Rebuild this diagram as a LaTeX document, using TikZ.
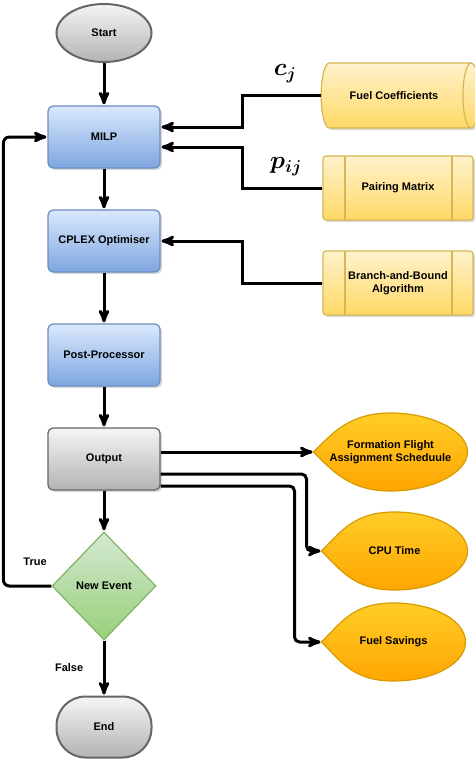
\documentclass[tikz,border=0pt]{standalone}
\usepackage{fontspec}
\setmainfont{Liberation Sans}
\usetikzlibrary{arrows,shapes.geometric,shadows,backgrounds}

\definecolor{blueline}{HTML}{6C8EBF}
\definecolor{bluetop}{HTML}{DAE8FC}
\definecolor{bluebot}{HTML}{7EA6E0}
\definecolor{greyline}{HTML}{666666}
\definecolor{greytop}{HTML}{F5F5F5}
\definecolor{greybot}{HTML}{B3B3B3}
\definecolor{greenline}{HTML}{82B366}
\definecolor{greentop}{HTML}{D5E8D4}
\definecolor{greenbot}{HTML}{97D077}
\definecolor{yellowline}{HTML}{D6B656}
\definecolor{yellowtop}{HTML}{FFF2CC}
\definecolor{yellowbot}{HTML}{FFD966}
\definecolor{orangeline}{HTML}{D79B00}
\definecolor{orangetop}{HTML}{FFCD28}
\definecolor{orangebot}{HTML}{FFA500}

% drop shaped result, drawn round a named node
\newcommand{\dropshape}[1]{%
  \path[result] (#1.west) .. controls +(20,20) and +(-40,0) .. (#1.north)
    .. controls +(41,0) and +(0,21) .. (#1.east)
    .. controls +(0,-21) and +(41,0) .. (#1.south)
    .. controls +(-40,0) and +(20,-20) .. (#1.west) -- cycle;}

\begin{document}
\begin{tikzpicture}[x=1pt,y=1pt,->,>=stealth',shorten >=1pt,line width=3pt,
                    node distance=104pt,font=\bfseries\fontsize{11}{13}\selectfont]

  \tikzstyle{shade}=[drop shadow={opacity=0.3,shadow xshift=2pt,shadow yshift=-2pt}]
  \tikzstyle{procbox}=[rectangle,rounded corners=5pt,draw=blueline,line width=1.2pt,
                       top color=bluetop,bottom color=bluebot,minimum width=112pt,
                       minimum height=62pt,shade]
  \tikzstyle{outbox}=[procbox,draw=greyline,top color=greytop,bottom color=greybot]
  \tikzstyle{startnode}=[ellipse,draw=greyline,line width=2pt,top color=greytop,
                         bottom color=greybot,minimum width=95pt,minimum height=58pt]
  \tikzstyle{endnode}=[startnode,rectangle,rounded corners=29pt,minimum height=61pt]
  \tikzstyle{decision}=[diamond,draw=greenline,line width=1.2pt,top color=greentop,
                        bottom color=greenbot,minimum width=104pt,minimum height=108pt,
                        inner sep=0pt]
  \tikzstyle{datastore}=[cylinder,aspect=1.1,draw=yellowline,line width=1.2pt,
                         top color=yellowtop,bottom color=yellowbot,
                         minimum width=65pt,minimum height=158pt,shade]
  \tikzstyle{predef}=[rectangle,rounded corners=3pt,draw=yellowline,line width=1.2pt,
                      top color=yellowtop,bottom color=yellowbot,minimum width=150pt,
                      minimum height=64pt,align=center,shade,
                      path picture={\draw[-,shorten >=0pt,draw=yellowline,line width=1.2pt]
                        ([xshift=22pt]path picture bounding box.north west) --
                        ([xshift=22pt]path picture bounding box.south west)
                        ([xshift=-21pt]path picture bounding box.north east) --
                        ([xshift=-21pt]path picture bounding box.south east);}]
  \tikzstyle{resultnode}=[rectangle,minimum height=75pt,inner sep=0pt,align=center]
  \tikzstyle{result}=[-,shorten >=0pt,draw=orangeline,line width=1.2pt,
                      top color=orangetop,bottom color=orangebot]
  \tikzstyle{mathlabel}=[font=\boldmath\fontsize{26}{30}\selectfont]

  \useasboundingbox (0,0) rectangle (474,-760);

  \node[startnode] (start) at (104,-33) {Start};
  \node[procbox]   (milp)   [below of=start]                      {MILP};
  \node[procbox]   (cplex)  [below of=milp]                       {CPLEX Optimiser};
  \node[procbox]   (post)   [node distance=114pt,below of=cplex]  {Post-Processor};
  \node[outbox]    (output) [below of=post]                       {Output};
  \node[decision]  (event)  [node distance=127pt,below of=output] {New Event};
  \node[endnode]   (stop)   [node distance=141pt,below of=event]  {End};

  \node[datastore] (fuel)    at (394,-95.5) {Fuel Coefficients};
  \node[predef]    (pairing) at (398,-188)  {Pairing Matrix};
  \node[predef]    (branch)  at (398,-283)  {Branch-and-Bound\\Algorithm};

  \node[resultnode,minimum width=151pt] (ff)      at (390.5,-452) {Formation Flight\\Assignment Scheduule};
  \node[resultnode,minimum width=143pt] (cpu)     at (394.5,-551) {CPU Time};
  \node[resultnode,minimum width=141pt] (savings) at (393.5,-642) {Fuel Savings};

  \begin{scope}[on background layer]
    \dropshape{ff}
    \dropshape{cpu}
    \dropshape{savings}
  \end{scope}

  \node[mathlabel] (cj)  at (285,-74)  {$c_j$};
  \node[mathlabel] (pij) at (286,-167) {$p_{ij}$};
  \node (truelbl) at (35,-562) {True};

  \path
  (start)  edge (milp)
  (milp)   edge (cplex)
  (cplex)  edge (post)
  (post)   edge (output)
  (output) edge (event)
  (event)  edge node[left=16pt] {False} (stop)
  ;

  % loop back on a new event
  \draw[rounded corners=6pt] (event.west) -- ++(-48,0) |- (milp.west);

  % inputs
  \coordinate (bus) at (242,0);
  \draw (fuel.west) -- (fuel.west -| bus) |- ([yshift=10pt]milp.east);
  \draw (pairing.west) -- (pairing.west -| bus) |- ([yshift=-10pt]milp.east);
  \draw (branch.west) -- (branch.west -| bus) |- (cplex.east);

  % outputs
  \draw (ff.west -| output.east) -- (ff.west);
  \draw[rounded corners=5pt] ([yshift=-15pt]output.east) -| ([xshift=-15pt]cpu.west) -- (cpu.west);
  \draw[rounded corners=5pt] ([yshift=-27pt]output.east) -| ([xshift=-27pt]savings.west) -- (savings.west);
\end{tikzpicture}
\end{document}
